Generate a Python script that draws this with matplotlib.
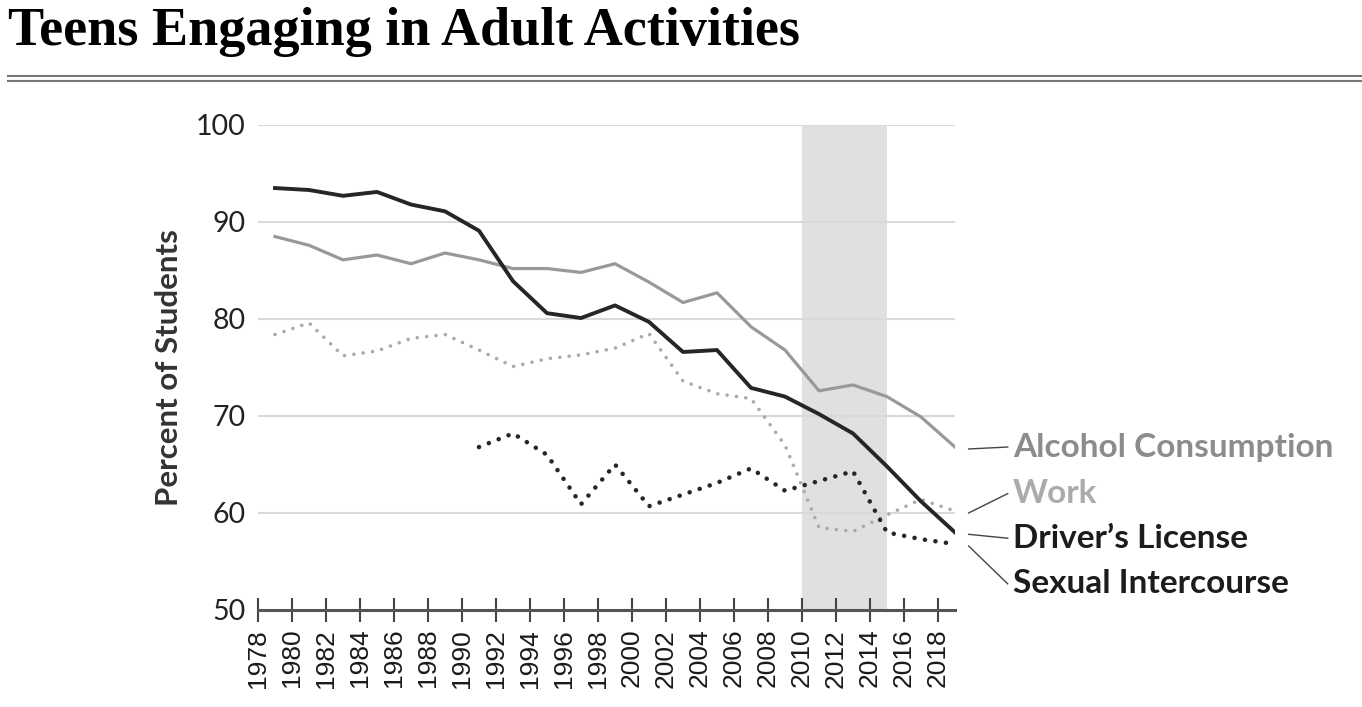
"""Teens engaging in adult activities: four survey series, 1979-2019."""

import matplotlib

matplotlib.use("Agg")
import matplotlib.pyplot as plt  # noqa: E402
from matplotlib.lines import Line2D  # noqa: E402

years = list(range(1979, 2020, 2))
drivers_license = [93.5, 93.3, 92.7, 93.1, 91.8, 91.1, 89.1, 83.9, 80.6, 80.1, 81.4,
                   79.7, 76.6, 76.8, 72.9, 72.0, 70.2, 68.2, 64.8, 61.2, 58.0]
alcohol = [88.5, 87.6, 86.1, 86.6, 85.7, 86.8, 86.1, 85.2, 85.2, 84.8, 85.7,
           83.8, 81.7, 82.7, 79.2, 76.8, 72.6, 73.2, 72.0, 69.9, 66.8]
work = [78.4, 79.6, 76.2, 76.7, 78.0, 78.4, 76.8, 75.1, 75.9, 76.3, 77.0,
        78.5, 73.6, 72.3, 71.8, 67.0, 58.5, 58.1, 59.8, 61.4, 60.2]
sex_years = list(range(1991, 2020, 2))
sex = [66.8, 68.2, 66.0, 60.9, 65.0, 60.7, 61.9, 63.1, 64.6, 62.3, 63.3, 64.3, 58.0, 57.3, 56.8]

shade_span = (2010, 2015)
x_ticks = list(range(1978, 2019, 2))
y_ticks = [50, 60, 70, 80, 90, 100]

# label text, colour, y of label, series end value
labels = [
    ("Alcohol Consumption", "#8c8c8c", 66.8, alcohol[-1]),
    ("Work", "#ababab", 62.0, work[-1]),
    ("Driver\u2019s License", "#1c1c1c", 57.4, drivers_license[-1]),
    ("Sexual Intercourse", "#1c1c1c", 52.7, sex[-1]),
]

fig = plt.figure(figsize=(13.62, 7.07), dpi=100)
ax = fig.add_axes([258 / 1362, 1 - 610 / 707, 697 / 1362, 485 / 707])

ax.axvspan(*shade_span, color="#e0e0e0", lw=0, zorder=0.1)
ax.plot(years, alcohol, color="#999999", lw=2.3, zorder=2)
ax.plot(years, work, color="#aaaaaa", lw=2.6, ls=(0, (0.01, 2.6)),
        dash_capstyle="round", zorder=2)
ax.plot(sex_years, sex, color="#262626", lw=3.3, ls=(0, (0.01, 2.3)),
        dash_capstyle="round", zorder=3)
ax.plot(years, drivers_license, color="#262626", lw=2.8, zorder=4)

ax.set_xlim(1978, 2019)
ax.set_ylim(50, 100)
ax.set_xticks(x_ticks)
ax.set_xticklabels([str(y) for y in x_ticks], rotation=90, family="Liberation Sans",
                   fontsize=19, color="#1a1a1a")
ax.set_yticks(y_ticks)
ax.set_yticklabels([str(v) for v in y_ticks], family="Lato", fontsize=20.5, color="#222222")
ax.tick_params(axis="x", direction="inout", length=17, width=1.5, color="#444444", pad=5)
ax.tick_params(axis="y", length=0, pad=9)
ax.set_axisbelow(True)
ax.grid(axis="y", color="#d9d9d9", lw=1.5)
for side in ("top", "right", "left"):
    ax.spines[side].set_visible(False)
ax.spines["bottom"].set_color("#555555")
ax.spines["bottom"].set_linewidth(2.2)
ax.spines["bottom"].set_zorder(5)

ax.set_ylabel("Percent of Students", family="Lato", fontweight="bold", fontsize=22.5,
              color="#333333")
ax.yaxis.set_label_coords(-0.108, 0.5)

# right-hand labels with leader lines
for text, color, ly, end in labels:
    ax.plot([2019.8, 2022.1], [end - 0.2, ly], color="#444444", lw=1.0, clip_on=False)
    ax.text(2022.4, ly, text, family="Lato", fontweight="bold", fontsize=24,
            color=color, va="center", ha="left", clip_on=False)

fig.text(8 / 1362, 1 - 45 / 707, "Teens Engaging in Adult Activities", family="Liberation Serif",
         fontweight="bold", fontsize=39, va="baseline", ha="left")
for y in (76, 81):
    fig.add_artist(Line2D([8 / 1362, 1], [1 - y / 707] * 2, color="#777777", lw=1.5))

fig.savefig("out.png", dpi=100)
plt.close(fig)
